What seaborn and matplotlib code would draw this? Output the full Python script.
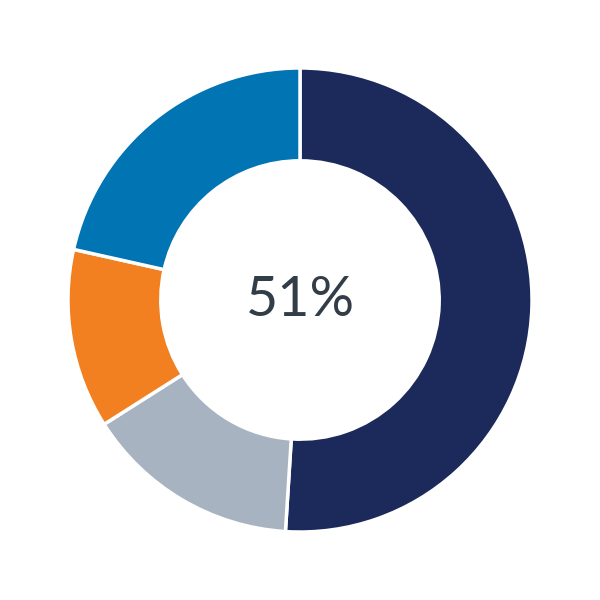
import matplotlib
matplotlib.use("Agg")
import matplotlib.pyplot as plt
import seaborn as sns

categories = ["A", "B", "C", "D"]
values = [51, 15, 12.5, 21.5]
colors = ["#1B2A5B", "#A8B3C1", "#F27F20", "#0174B4"]
center_label = "51%"

sns.set_theme(style="white")
plt.rcParams['font.family'] = ['Lato', 'DejaVu Sans']

fig = plt.figure(figsize=(6, 6), dpi=100)
ax = fig.add_axes([0, 0, 1, 1])
ax.pie(values, colors=colors, startangle=90, counterclock=False,
       radius=1.0, wedgeprops=dict(width=0.4, edgecolor="white", linewidth=2.5))
ax.set_xlim(-1.293, 1.293)
ax.set_ylim(-1.293, 1.293)
ax.set_aspect("equal")
ax.axis("off")
ax.text(0, 0, center_label, ha="center", va="center", fontsize=40, color="#333D48")
fig.savefig("out.png", dpi=100, facecolor="white")
